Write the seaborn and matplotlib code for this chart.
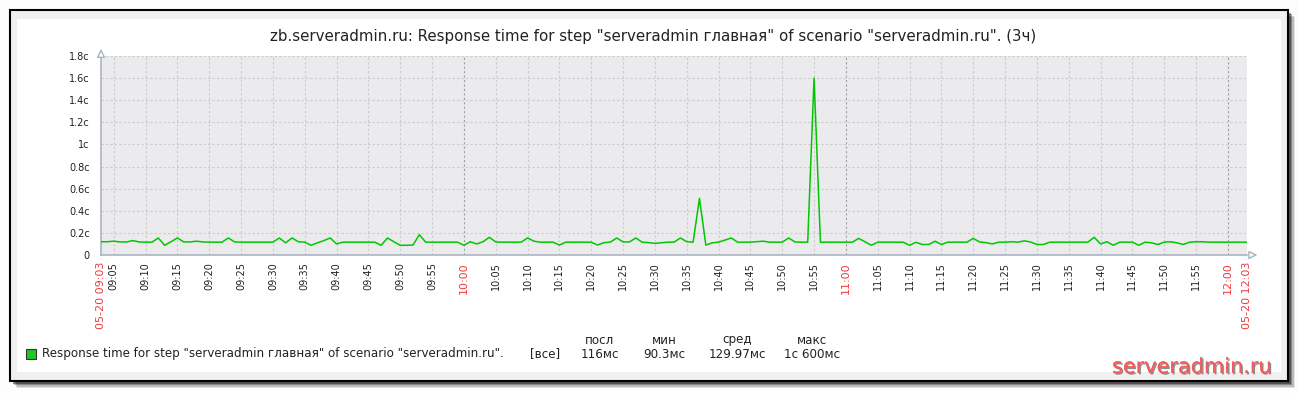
import matplotlib
matplotlib.use("Agg")
import matplotlib.pyplot as plt
import matplotlib.patches as mpatches
import matplotlib.patheffects as pe
import seaborn as sns
import pandas as pd

# ---------------- data ----------------
title = 'zb.serveradmin.ru: Response time for step "serveradmin главная" of scenario "serveradmin.ru". (3ч)'
start_label = "05-20 09:03"
end_label = "05-20 12:03"
response_s = [
    0.120, 0.120, 0.125, 0.118, 0.118, 0.130, 0.118, 0.116, 0.116, 0.154,
    0.088, 0.120, 0.154, 0.118, 0.118, 0.125, 0.118, 0.116, 0.116, 0.116,
    0.154, 0.118, 0.116, 0.116, 0.116, 0.116, 0.116, 0.116, 0.154, 0.110,
    0.154, 0.120, 0.116, 0.088, 0.110, 0.130, 0.154, 0.100, 0.116, 0.116,
    0.116, 0.116, 0.116, 0.116, 0.088, 0.154, 0.120, 0.088, 0.088, 0.090,
    0.184, 0.116, 0.116, 0.116, 0.116, 0.116, 0.116, 0.088, 0.120, 0.100,
    0.120, 0.160, 0.118, 0.116, 0.116, 0.116, 0.116, 0.154, 0.125, 0.116,
    0.116, 0.116, 0.090, 0.116, 0.116, 0.116, 0.116, 0.116, 0.090, 0.112,
    0.116, 0.154, 0.118, 0.118, 0.154, 0.116, 0.112, 0.105, 0.110, 0.116,
    0.116, 0.154, 0.120, 0.116, 0.512, 0.090, 0.110, 0.116, 0.135, 0.154,
    0.116, 0.116, 0.116, 0.120, 0.125, 0.116, 0.116, 0.116, 0.154, 0.118,
    0.116, 0.116, 1.600, 0.116, 0.116, 0.116, 0.116, 0.116, 0.116, 0.150,
    0.120, 0.088, 0.116, 0.116, 0.116, 0.116, 0.116, 0.088, 0.115, 0.095,
    0.095, 0.125, 0.095, 0.116, 0.116, 0.116, 0.116, 0.150, 0.118, 0.112,
    0.100, 0.116, 0.116, 0.120, 0.116, 0.128, 0.118, 0.095, 0.095, 0.116,
    0.116, 0.116, 0.116, 0.116, 0.116, 0.116, 0.160, 0.100, 0.120, 0.088,
    0.116, 0.116, 0.116, 0.088, 0.116, 0.110, 0.095, 0.116, 0.120, 0.110,
    0.095, 0.116, 0.120, 0.120, 0.116, 0.116, 0.116, 0.116, 0.116, 0.116,
    0.116,
]
minor_ticks = ["09:05", "09:10", "09:15", "09:20", "09:25", "09:30", "09:35", "09:40",
               "09:45", "09:50", "09:55", "10:05", "10:10", "10:15", "10:20", "10:25",
               "10:30", "10:35", "10:40", "10:45", "10:50", "10:55", "11:05", "11:10",
               "11:15", "11:20", "11:25", "11:30", "11:35", "11:40", "11:45", "11:50",
               "11:55"]
hour_ticks = ["10:00", "11:00", "12:00"]
y_ticks = [0, 0.2, 0.4, 0.6, 0.8, 1.0, 1.2, 1.4, 1.6, 1.8]
y_tick_labels = ["0", "0.2с", "0.4с", "0.6с", "0.8с", "1с", "1.2с", "1.4с", "1.6с", "1.8с"]
legend_name = 'Response time for step "serveradmin главная" of scenario "serveradmin.ru".'
legend_func = "[все]"
stat_headers = ["посл", "мин", "сред", "макс"]
stat_values = ["116мс", "90.3мс", "129.97мс", "1с 600мс"]
watermark = "serveradmin.ru"

# ---------------- helpers ----------------
W, H = 1298, 393


def fx(px):
    return px / W


def fy(py):
    return 1 - py / H


def minute_of(lbl):
    h, m = lbl.split(":")
    return (int(h) - 9) * 60 + int(m) - 3


times = pd.date_range("2019-05-20 09:03", periods=len(response_s), freq="min")
df = pd.DataFrame({"minute": (times - times[0]).total_seconds() / 60, "value": response_s})

sns.set_style("white")
plt.rcParams["font.family"] = ["DejaVu Sans"]

fig = plt.figure(figsize=(W / 100, H / 100), dpi=100)
fig.patch.set_facecolor("#fdfdfd")

# frame with shadow
for i, a in enumerate([0.10, 0.18, 0.28, 0.4]):
    off = 7 - i * 1.5
    fig.patches.append(mpatches.Rectangle((fx(10 + off), fy(381 + off)), fx(1278), 371 / H,
                                          transform=fig.transFigure, facecolor="#000000",
                                          alpha=a, edgecolor="none", zorder=0))
fig.patches.append(mpatches.Rectangle((fx(10), fy(381)), fx(1278), 371 / H, transform=fig.transFigure,
                                      facecolor="#f0f0f0", edgecolor="#000000", linewidth=1.5, zorder=1))
fig.patches.append(mpatches.Rectangle((fx(17), fy(372)), fx(1264), 353 / H, transform=fig.transFigure,
                                      facecolor="#ffffff", edgecolor="none", zorder=2))

ax = fig.add_axes([fx(101), fy(255), fx(1247 - 101), (255 - 56) / H], zorder=3)
ax.set_facecolor("#ebeaed")

sns.lineplot(data=df, x="minute", y="value", ax=ax, color="#00c800", linewidth=1.1, zorder=5)

ax.set_xlim(0, 180)
ax.set_ylim(0, 1.8)

# grid
grid_col = "#cbcbcb"
for yv in y_ticks[1:]:
    ax.axhline(yv, color=grid_col, linestyle=(0, (2, 2)), linewidth=0.8, zorder=1)
for lbl in minor_ticks:
    ax.axvline(minute_of(lbl), color=grid_col, linestyle=(0, (2, 2)), linewidth=0.8, zorder=1)
for lbl in hour_ticks:
    ax.axvline(minute_of(lbl), color="#a0a0a0", linestyle=(0, (2, 2)), linewidth=0.8, zorder=1)

# y ticks
ax.set_yticks(y_ticks)
ax.set_yticklabels(y_tick_labels)
ax.tick_params(axis="y", length=0, pad=8, labelsize=7, labelcolor="#222222")

# x ticks
pos = [0] + [minute_of(l) for l in minor_ticks + hour_ticks] + [180]
labs = [start_label] + minor_ticks + hour_ticks + [end_label]
ax.set_xticks(pos)
ax.set_xticklabels(labs, rotation=90)
ax.tick_params(axis="x", length=0, pad=5, labelsize=7, labelcolor="#222222")
for t in ax.get_xticklabels():
    if t.get_text() in hour_ticks or t.get_text() in (start_label, end_label):
        t.set_color("#ec3b3b")
        t.set_fontsize(8)
ax.set_xlabel("")
ax.set_ylabel("")

axis_col = "#a9b4c2"
for s in ["top", "right"]:
    ax.spines[s].set_visible(False)
for s in ["left", "bottom"]:
    ax.spines[s].set_color(axis_col)
    ax.spines[s].set_linewidth(1.2)

# axis arrows
ax.annotate("", xy=(0, 1.05), xytext=(0, 1.0), xycoords="axes fraction",
            arrowprops=dict(arrowstyle="-|>,head_length=0.5,head_width=0.25", color=axis_col,
                            fc="white", lw=1.0), annotation_clip=False)
ax.annotate("", xy=(1.0115, 0), xytext=(1.0, 0), xycoords="axes fraction",
            arrowprops=dict(arrowstyle="-|>,head_length=0.5,head_width=0.25", color=axis_col,
                            fc="white", lw=1.0), annotation_clip=False)

# title
fig.text(fx(653), fy(37), title, ha="center", va="center", fontsize=10.8, color="#222222", zorder=5)

# legend
fig.patches.append(mpatches.Rectangle((fx(26), fy(359)), fx(10), 10 / H, transform=fig.transFigure,
                                      facecolor="#22c822", edgecolor="#333333", linewidth=0.8, zorder=5))
fig.text(fx(42), fy(354), legend_name, ha="left", va="center", fontsize=8.6, color="#222222", zorder=5)
fig.text(fx(545), fy(354), legend_func, ha="center", va="center", fontsize=8.6, color="#222222", zorder=5)
for hx, hdr, val in zip([600, 664, 737, 812], stat_headers, stat_values):
    fig.text(fx(hx), fy(340), hdr, ha="center", va="center", fontsize=8.6, color="#222222", zorder=5)
    fig.text(fx(hx), fy(354), val, ha="center", va="center", fontsize=8.6, color="#222222", zorder=5)

# watermark
fig.text(fx(1192), fy(367), watermark, ha="center", va="center", fontsize=15, color="#f25c5c",
         zorder=6, path_effects=[pe.withSimplePatchShadow(offset=(1, -1), shadow_rgbFace="#606060", alpha=0.7),
                                 pe.Normal()])

fig.savefig("out.png", dpi=100)
